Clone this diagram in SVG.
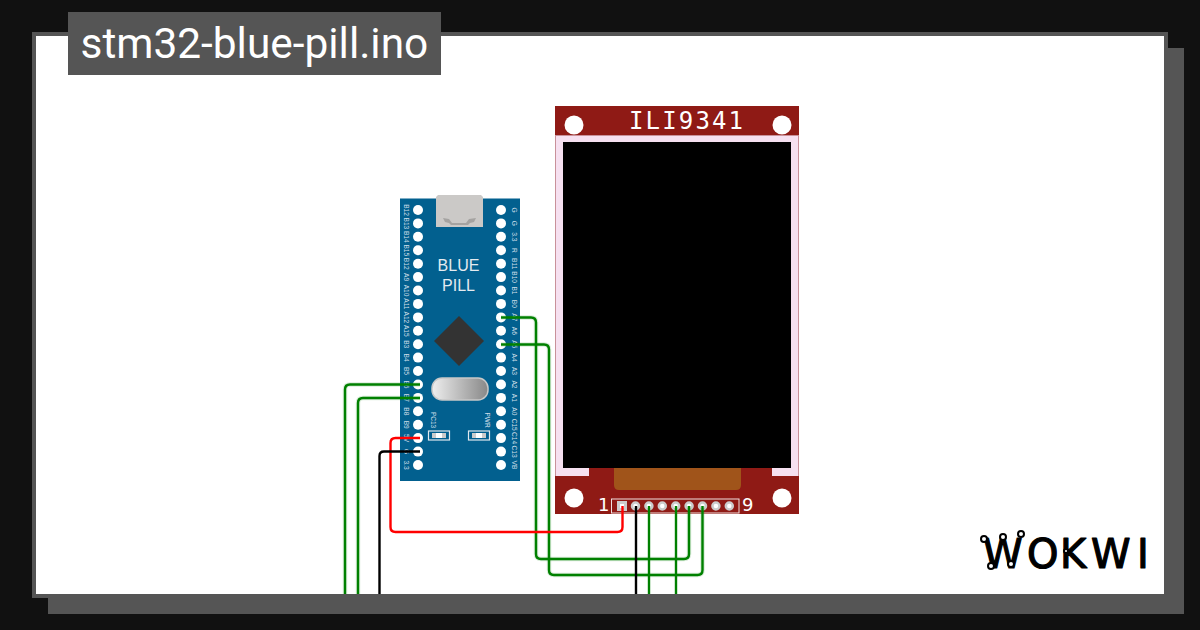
<svg xmlns="http://www.w3.org/2000/svg" width="1200" height="630" viewBox="0 0 1200 630">
<style>
.pin{fill:#fff}
.pl{font-family:"Liberation Sans",Arial,sans-serif;font-size:6.600px;fill:#cfdfe9;text-anchor:middle}
.w{fill:none;stroke-width:2.400;stroke-linejoin:round}
.h{fill:none;stroke-width:4.500;stroke-opacity:.15}
.dp{fill:#fff;stroke:#ccc;stroke-width:2.500}
.hole{fill:#fff}
.node{fill:#fff;stroke:#000;stroke-width:2}
</style>
<rect width="1200" height="630" fill="#111"/>
<rect x="48" y="48" width="1136" height="566" fill="#555"/>
<rect x="34" y="34" width="1132" height="562" fill="#fff" stroke="#555" stroke-width="4"/>
<rect x="68" y="12" width="373" height="63" fill="#555"/>
<text x="80.500" y="58" font-family="Roboto,sans-serif" font-size="42.400" fill="#fff">stm32-blue-pill.ino</text>

<g id="display">
<rect x="555" y="106" width="244" height="408" fill="#8f1a15"/>
<rect x="555.500" y="135.500" width="243" height="341" fill="#f6e0f0" stroke="#c9919a" stroke-width="1"/>
<rect x="563" y="142" width="228" height="326" fill="#000"/>
<rect x="589" y="468" width="183" height="9" fill="#8f1a15"/>
<rect x="555" y="476" width="244" height="38" fill="#8f1a15"/>
<path d="M614 468H741V485Q741 490 736 490H619Q614 490 614 485Z" fill="#a0541a"/>
<circle class="hole" cx="574" cy="125" r="9.500"/>
<circle class="hole" cx="782" cy="125" r="9.500"/>
<circle class="hole" cx="574" cy="498" r="9.500"/>
<circle class="hole" cx="782" cy="498" r="9.500"/>
<text x="629" y="129" font-family="'DejaVu Sans Mono',monospace" font-size="24" letter-spacing="2.150" fill="#fff">ILI9341</text>
<rect x="611.500" y="499" width="127.500" height="14" fill="none" stroke="#f0e0e0" stroke-width="1"/>
<text x="598" y="511" font-family="'DejaVu Sans',sans-serif" font-size="18" fill="#fff">1</text>
<text x="742" y="511" font-family="'DejaVu Sans',sans-serif" font-size="18" fill="#fff">9</text>
<rect x="617" y="501" width="10" height="10" fill="#ccc"/><rect x="620" y="504" width="4" height="4" fill="#fff"/>
<circle class="dp" cx="635.500" cy="506" r="3.500"/>
<circle class="dp" cx="648.900" cy="506" r="3.500"/>
<circle class="dp" cx="662.300" cy="506" r="3.500"/>
<circle class="dp" cx="675.700" cy="506" r="3.500"/>
<circle class="dp" cx="689.100" cy="506" r="3.500"/>
<circle class="dp" cx="702.500" cy="506" r="3.500"/>
<circle class="dp" cx="715.900" cy="506" r="3.500"/>
<circle class="dp" cx="729.300" cy="506" r="3.500"/>
</g>

<g id="bluepill">
<rect x="400" y="198.500" width="120" height="282.500" fill="#02608f"/>
<path d="M436 197L438 195H481L483 197V227H436Z" fill="#cbc9c7"/>
<path d="M443 218L449 219L452 223H466L469 219L476 218L474 222L470 223L468 225H451L449 223L445 222Z" fill="#a5a3a1"/>
<text x="458.500" y="270.500" font-family="'Liberation Sans',sans-serif" font-size="16" fill="#e4ebf0" text-anchor="middle">BLUE</text>
<text x="458.500" y="291" font-family="'Liberation Sans',sans-serif" font-size="16" fill="#e4ebf0" text-anchor="middle">PILL</text>
<path d="M459 316L484 341L459 366L434 341Z" fill="#333"/>
<defs><linearGradient id="xt" x1="0" x2="1"><stop offset="0" stop-color="#eee"/><stop offset="1" stop-color="#888"/></linearGradient></defs>
<rect x="432" y="378" width="56" height="22" rx="10" fill="url(#xt)" stroke="#c8c8c8" stroke-width="1.500"/>
<rect x="428.500" y="431" width="21" height="9" fill="none" stroke="#dfe8ee" stroke-width="1.200"/>
<rect x="432" y="433" width="14" height="5" fill="#ccc"/><rect x="436" y="433" width="6" height="5" fill="#fff"/>
<rect x="468.500" y="431" width="21" height="9" fill="none" stroke="#dfe8ee" stroke-width="1.200"/>
<rect x="472" y="433" width="14" height="5" fill="#ccc"/><rect x="476" y="433" width="6" height="5" fill="#fff"/>
<text class="pl" transform="translate(431,420) rotate(90)" style="font-size:6.500px">PC13</text>
<text class="pl" transform="translate(485,420) rotate(90)" style="font-size:6.500px">PWR</text>

<g id="pins-left">
<circle class="pin" cx="418" cy="210" r="5"/><circle class="pin" cx="418" cy="223.400" r="5"/><circle class="pin" cx="418" cy="236.800" r="5"/><circle class="pin" cx="418" cy="250.300" r="5"/><circle class="pin" cx="418" cy="263.700" r="5"/><circle class="pin" cx="418" cy="277.100" r="5"/><circle class="pin" cx="418" cy="290.500" r="5"/><circle class="pin" cx="418" cy="303.900" r="5"/><circle class="pin" cx="418" cy="317.400" r="5"/><circle class="pin" cx="418" cy="330.800" r="5"/><circle class="pin" cx="418" cy="344.200" r="5"/><circle class="pin" cx="418" cy="357.600" r="5"/><circle class="pin" cx="418" cy="371" r="5"/><circle class="pin" cx="418" cy="384.500" r="5"/><circle class="pin" cx="418" cy="397.900" r="5"/><circle class="pin" cx="418" cy="411.300" r="5"/><circle class="pin" cx="418" cy="424.700" r="5"/><circle class="pin" cx="418" cy="438.100" r="5"/><circle class="pin" cx="418" cy="451.600" r="5"/><circle class="pin" cx="418" cy="465" r="5"/>
</g>
<g id="pins-right">
<circle class="pin" cx="501" cy="210" r="5"/><circle class="pin" cx="501" cy="223.400" r="5"/><circle class="pin" cx="501" cy="236.800" r="5"/><circle class="pin" cx="501" cy="250.300" r="5"/><circle class="pin" cx="501" cy="263.700" r="5"/><circle class="pin" cx="501" cy="277.100" r="5"/><circle class="pin" cx="501" cy="290.500" r="5"/><circle class="pin" cx="501" cy="303.900" r="5"/><circle class="pin" cx="501" cy="317.400" r="5"/><circle class="pin" cx="501" cy="330.800" r="5"/><circle class="pin" cx="501" cy="344.200" r="5"/><circle class="pin" cx="501" cy="357.600" r="5"/><circle class="pin" cx="501" cy="371" r="5"/><circle class="pin" cx="501" cy="384.500" r="5"/><circle class="pin" cx="501" cy="397.900" r="5"/><circle class="pin" cx="501" cy="411.300" r="5"/><circle class="pin" cx="501" cy="424.700" r="5"/><circle class="pin" cx="501" cy="438.100" r="5"/><circle class="pin" cx="501" cy="451.600" r="5"/><circle class="pin" cx="501" cy="465" r="5"/>
</g>
<g id="labels-left">
<text class="pl" transform="translate(404,210) rotate(90)">B12</text><text class="pl" transform="translate(404,223.400) rotate(90)">B13</text><text class="pl" transform="translate(404,236.800) rotate(90)">B14</text><text class="pl" transform="translate(404,250.300) rotate(90)">B15</text><text class="pl" transform="translate(404,263.700) rotate(90)">B12</text><text class="pl" transform="translate(404,277.100) rotate(90)">A9</text><text class="pl" transform="translate(404,290.500) rotate(90)">A10</text><text class="pl" transform="translate(404,303.900) rotate(90)">A11</text><text class="pl" transform="translate(404,317.400) rotate(90)">A12</text><text class="pl" transform="translate(404,330.800) rotate(90)">A15</text><text class="pl" transform="translate(404,344.200) rotate(90)">B3</text><text class="pl" transform="translate(404,357.600) rotate(90)">B4</text><text class="pl" transform="translate(404,371) rotate(90)">B5</text><text class="pl" transform="translate(404,384.500) rotate(90)">B6</text><text class="pl" transform="translate(404,397.900) rotate(90)">B7</text><text class="pl" transform="translate(404,411.300) rotate(90)">B8</text><text class="pl" transform="translate(404,424.700) rotate(90)">B9</text><text class="pl" transform="translate(404,438.100) rotate(90)">5V</text><text class="pl" transform="translate(404,451.600) rotate(90)">G</text><text class="pl" transform="translate(404,465) rotate(90)">3.3</text>
</g>
<g id="labels-right">
<text class="pl" transform="translate(512,210) rotate(90)">G</text><text class="pl" transform="translate(512,223.400) rotate(90)">G</text><text class="pl" transform="translate(512,236.800) rotate(90)">3.3</text><text class="pl" transform="translate(512,250.300) rotate(90)">R</text><text class="pl" transform="translate(512,263.700) rotate(90)">B11</text><text class="pl" transform="translate(512,277.100) rotate(90)">B10</text><text class="pl" transform="translate(512,290.500) rotate(90)">B1</text><text class="pl" transform="translate(512,303.900) rotate(90)">B0</text><text class="pl" transform="translate(512,317.400) rotate(90)">A7</text><text class="pl" transform="translate(512,330.800) rotate(90)">A6</text><text class="pl" transform="translate(512,344.200) rotate(90)">A5</text><text class="pl" transform="translate(512,357.600) rotate(90)">A4</text><text class="pl" transform="translate(512,371) rotate(90)">A3</text><text class="pl" transform="translate(512,384.500) rotate(90)">A2</text><text class="pl" transform="translate(512,397.900) rotate(90)">A1</text><text class="pl" transform="translate(512,411.300) rotate(90)">A0</text><text class="pl" transform="translate(512,424.700) rotate(90)">C15</text><text class="pl" transform="translate(512,438.100) rotate(90)">C14</text><text class="pl" transform="translate(512,451.600) rotate(90)">C13</text><text class="pl" transform="translate(512,465) rotate(90)">VB</text>
</g>
</g>

<g id="connectors">
<g stroke="#008000">
<path class="h" d="M420 384.500H350Q345 384.500 345 389.500V594"/><path class="w" d="M420 384.500H350Q345 384.500 345 389.500V594"/>
<path class="h" d="M420 398H363Q358 398 358 403V594"/><path class="w" d="M420 398H363Q358 398 358 403V594"/>
<path class="h" d="M501 317.500H531Q536 317.500 536 322.500V554Q536 559 541 559H684Q689 559 689 554V506"/><path class="w" d="M501 317.500H531Q536 317.500 536 322.500V554Q536 559 541 559H684Q689 559 689 554V506"/>
<path class="h" d="M501 344.500H544Q549 344.500 549 349.500V570Q549 575 554 575H697.500Q702.500 575 702.500 570V506"/><path class="w" d="M501 344.500H544Q549 344.500 549 349.500V570Q549 575 554 575H697.500Q702.500 575 702.500 570V506"/>
<path class="w" d="M649 506V594"/>
<path class="w" d="M676 506V594"/>
</g>
<path class="w" stroke="#f00" d="M420 438H395.500Q390.500 438 390.500 443V527Q390.500 532 395.500 532H617.500Q622.500 532 622.500 527V506"/>
<path class="w" stroke="#000" d="M420 451.500H384Q379.500 451.500 379.500 456V594"/>
<path class="w" stroke="#000" d="M636 506V594"/>
</g>

<g id="logo">
<text x="983 1027 1060 1091 1137" y="568" font-family="'DejaVu Sans',sans-serif" font-size="40" fill="#000" stroke="#000" stroke-width="1.200" stroke-linejoin="round">WOKWI</text>
<circle class="node" cx="984" cy="539" r="3"/>
<circle class="node" cx="1003" cy="537" r="3"/>
<circle class="node" cx="1021" cy="534" r="3"/>
<circle class="node" cx="991" cy="566" r="3"/>
<circle class="node" cx="1011" cy="564" r="3"/>
<circle class="node" cx="1066" cy="551" r="2"/>
</g>
</svg>
